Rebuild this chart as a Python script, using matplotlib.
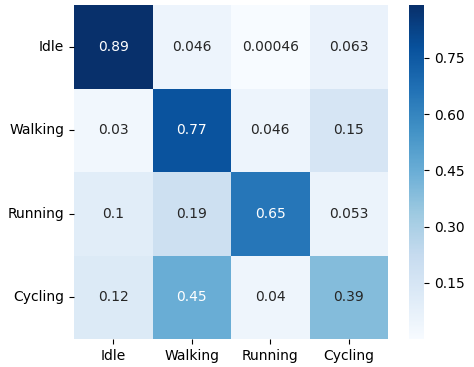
import numpy as np
import matplotlib
matplotlib.use("Agg")
import matplotlib.pyplot as plt
import seaborn as sns

# Data confusion matrix
labels = ["Idle", "Walking", "Running", "Cycling"]
row_idle = [0.89, 0.046, 0.00046, 0.063]
row_walking = [0.03, 0.77, 0.046, 0.15]
row_running = [0.1, 0.19, 0.65, 0.053]
row_cycling = [0.12, 0.45, 0.04, 0.39]
cbar_ticks = [0.15, 0.30, 0.45, 0.60, 0.75]


def main():
    plt.rcParams["font.family"] = ["DejaVu Sans"]
    cm = np.array([row_idle, row_walking, row_running, row_cycling])

    fig = plt.figure(figsize=(4.74, 3.67), dpi=100)
    ax = fig.add_axes([0.156, 0.076, 0.663, 0.910])
    cax = fig.add_axes([0.863, 0.076, 0.032, 0.910])

    sns.heatmap(cm, annot=True, cmap="Blues", xticklabels=labels,
                yticklabels=labels, ax=ax, cbar_ax=cax,
                annot_kws={"fontsize": 10})
    ax.tick_params(labelsize=10)
    ax.set_yticklabels(labels, rotation=0)
    cax.set_yticks(cbar_ticks)
    cax.set_yticklabels([f"{t:.2f}" for t in cbar_ticks])
    cax.tick_params(labelsize=10)

    fig.savefig("out.png", dpi=100)


if __name__ == "__main__":
    main()
